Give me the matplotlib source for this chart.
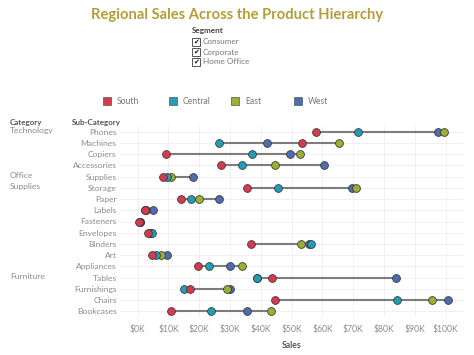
import matplotlib
matplotlib.use("Agg")
import matplotlib.pyplot as plt
from matplotlib.patches import Rectangle
from matplotlib.ticker import FuncFormatter

plt.rcParams['font.family'] = ['Lato', 'DejaVu Sans']

sub_categories = ["Phones", "Machines", "Copiers", "Accessories", "Supplies", "Storage",
                  "Paper", "Labels", "Fasteners", "Envelopes", "Binders", "Art",
                  "Appliances", "Tables", "Furnishings", "Chairs", "Bookcases"]
categories = ["Technology", "Office\nSupplies", "Furniture"]
category_rows = [0, 4, 13]  # row where each category label sits

# sales in $K
south = [57.8, 53.3, 9.2, 27.0, 8.3, 35.4, 14.1, 2.4, 0.5, 3.4, 36.8, 4.6, 19.5, 43.6, 17.1, 44.7, 10.8]
central = [71.6, 26.5, 37.0, 33.8, 9.7, 45.5, 17.3, 2.5, 0.8, 4.7, 56.4, 5.9, 23.3, 38.7, 15.1, 84.3, 23.9]
east = [99.5, 65.5, 52.8, 44.7, 10.8, 70.8, 20.0, 2.6, 0.9, 4.1, 53.0, 7.6, 34.0, 38.6, 28.9, 95.4, 43.3]
west = [97.6, 42.1, 49.4, 60.6, 18.0, 69.7, 26.4, 5.1, 0.9, 4.4, 55.6, 9.4, 30.1, 84.0, 29.9, 100.7, 35.6]

regions = ["South", "Central", "East", "West"]
colors = {"South": "#d8394d", "Central": "#1f9fb5", "East": "#9bb030", "West": "#4f6cb0"}
series = {"South": south, "Central": central, "East": east, "West": west}

fig = plt.figure(figsize=(4.74, 3.55), dpi=100)
W, H = 474, 355
ax = fig.add_axes([120 / W, 1 - 317 / H, (463 - 120) / W, (317 - 126) / H])

rows = list(range(len(sub_categories)))
for i in rows:
    vals = [south[i], central[i], east[i], west[i]]
    ax.plot([min(vals), max(vals)], [i, i], color="#7d7d7d", lw=1.5, zorder=2,
            solid_capstyle="butt")

# West drawn first, South last (on top)
for z, r in enumerate(["West", "East", "Central", "South"]):
    ax.plot(series[r], rows, "o", ms=5.6, color=colors[r], mec="#3a3a3a", mew=0.6,
            zorder=3 + z, linestyle="none")

ax.set_xlim(-5.7, 105.6)
ax.set_ylim(len(sub_categories) - 0.5, -0.5)
ax.set_xticks(range(0, 101, 10))
ax.xaxis.set_major_formatter(FuncFormatter(lambda v, p: "$%dK" % v))
ax.set_yticks(rows)
ax.set_yticklabels(sub_categories)
ax.tick_params(axis="both", length=0, labelcolor="#8c8c8c")
ax.tick_params(axis="y", pad=2.5, labelsize=6.1)
ax.tick_params(axis="x", pad=6, labelsize=6.2)
for s in ax.spines.values():
    s.set_visible(False)
ax.grid(True, color="#f0f0f0", lw=0.7)
ax.set_axisbelow(True)
ax.set_xlabel("Sales", fontsize=6.2, fontweight="bold", color="#555555", labelpad=5)

# category column
fig.text(10 / W, 1 - 122 / H, "Category", fontsize=5.8, fontweight="bold", color="#555555", va="center")
fig.text(72 / W, 1 - 122 / H, "Sub-Category", fontsize=5.8, fontweight="bold", color="#555555",
         va="center")
for c, r in zip(categories, category_rows):
    y_px = 132 + r * 11.22
    fig.text(10 / W, 1 - (y_px - 4.5) / H, c, fontsize=6.1, color="#8c8c8c", va="top", linespacing=1.55)

# title
fig.text(237 / W, 1 - 15 / H, "Regional Sales Across the Product Hierarchy", fontsize=10.6,
         fontweight="bold", color="#b39e3c", ha="center", va="center")

# segment filter
fig.text(192 / W, 1 - 31 / H, "Segment", fontsize=5.9, fontweight="bold", color="#444444", va="center")
for k, seg in enumerate(["Consumer", "Corporate", "Home Office"]):
    yc = 42 + k * 10
    fig.patches.append(Rectangle(((192) / W, 1 - (yc + 4) / H), 8 / W, 8 / H,
                                 transform=fig.transFigure, fill=False, ec="#555555", lw=0.7))
    fig.text(196 / W, 1 - yc / H, "\u2714", fontsize=5, color="#111111", ha="center", va="center",
             family="DejaVu Sans")
    fig.text(203 / W, 1 - yc / H, seg, fontsize=5.9, color="#777777", va="center")

# color legend
legend_x = [107, 173, 235, 298]
for r, lx in zip(regions, legend_x):
    fig.patches.append(Rectangle(((lx - 4) / W, 1 - 105 / H), 8 / W, 8 / H,
                                 transform=fig.transFigure, fc=colors[r], ec="#555555", lw=0.5))
    fig.text((lx + 10) / W, 1 - 101 / H, r, fontsize=6.2, color="#777777", va="center")

fig.savefig("out.png", dpi=100, facecolor="white")
